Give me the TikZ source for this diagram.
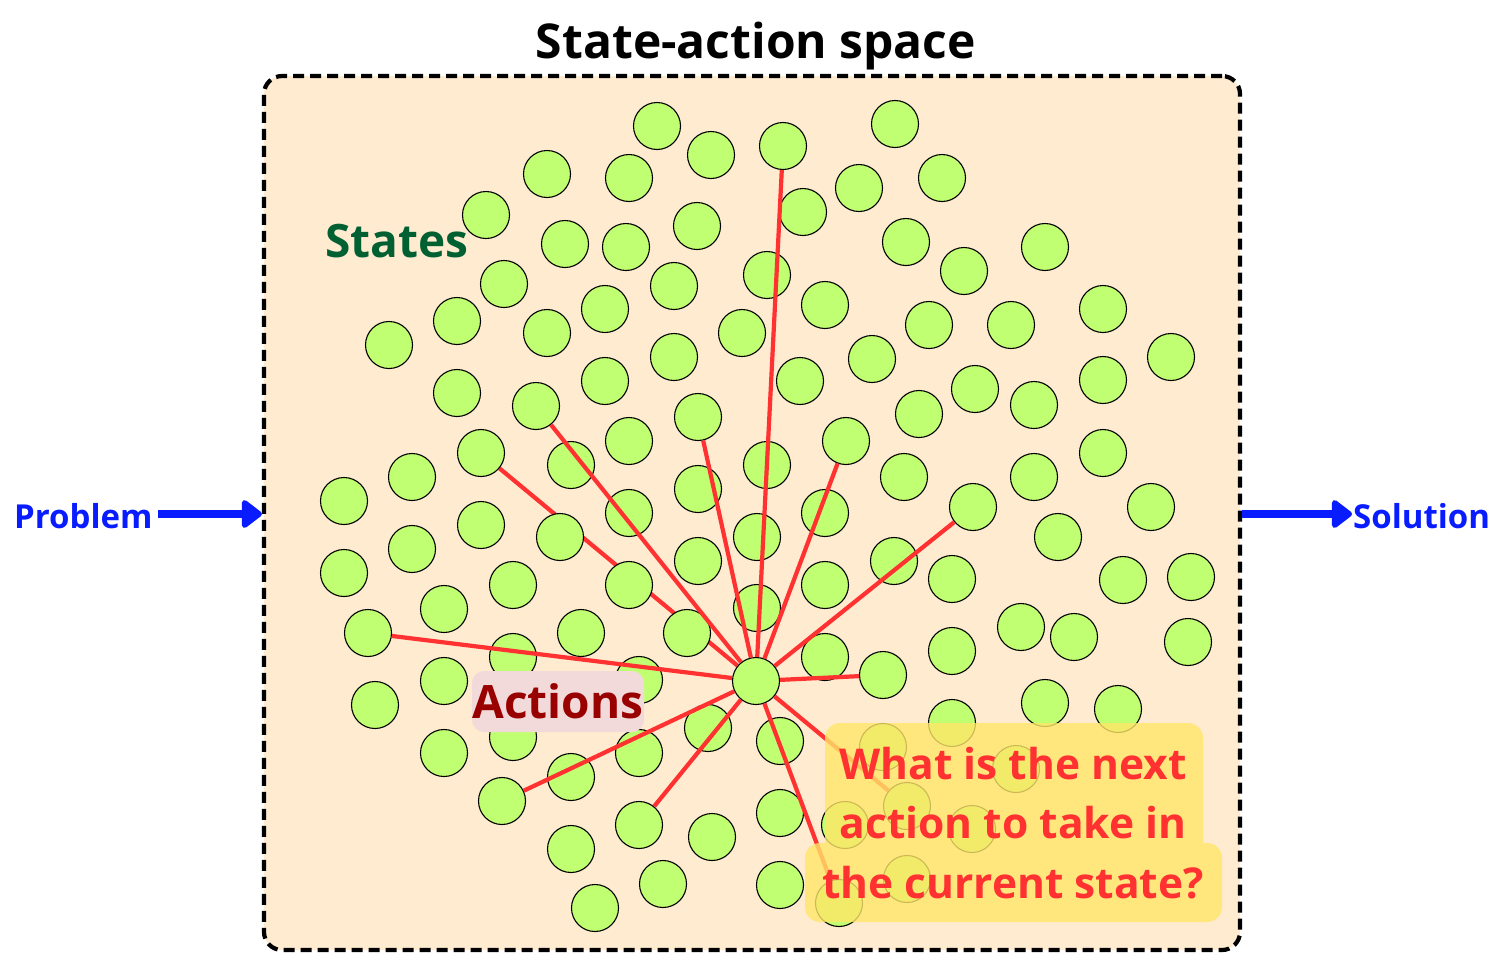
\documentclass[tikz,border=0pt]{standalone}
\usepackage{fontspec}
\setmainfont{Open Sans}
\usetikzlibrary{arrows.meta}
\definecolor{peach}{RGB}{255,235,208}
\definecolor{lgreen}{RGB}{193,255,114}
\definecolor{rline}{RGB}{255,49,49}
\definecolor{pblue}{RGB}{8,28,255}
\definecolor{dgreen}{RGB}{0,96,50}
\definecolor{dred}{RGB}{153,0,0}
\definecolor{pinkbox}{RGB}{242,218,218}
\definecolor{ybox}{RGB}{255,230,105}
\pgfdeclarelayer{bg}
\pgfdeclarelayer{under}
\pgfsetlayers{bg,under,main}
\tikzset{
  st/.style={circle, draw=black, line width=1.1pt, fill=lgreen, minimum size=47pt, inner sep=0pt},
  act/.style={draw=rline, line width=4.2pt},
  flow/.style={draw=pblue, line width=7.5pt, -{Triangle[round, length=22pt, width=32pt]}},
  lbl/.style={inner sep=0pt, font=\bfseries},
}
\begin{document}
\begin{tikzpicture}[x=1pt,y=-1pt]
\useasboundingbox (0,0) rectangle (1503,956);
\begin{pgfonlayer}{bg}
\fill[white] (0,0) rectangle (1503,956);
\node[draw=black, fill=peach, line width=4.2pt, dash pattern=on 11pt off 6pt, rounded corners=18pt,
      minimum width=976pt, minimum height=874pt, inner sep=0pt] (space) at (752,513) {};
\end{pgfonlayer}
\foreach \x/\y [count=\i] in {
 657/126, 711/155, 547/174, 629/178, 486/215, 565/244, 626/247, 697/226, 504/284, 674/286,
 457/321, 547/333, 605/309, 742/333, 389/345, 674/357, 605/381, 767/275, 783/146, 895/124,
 942/178, 859/188, 803/212, 906/242, 964/271, 1045/247, 825/305, 929/325, 1011/325, 1103/309,
 872/359, 800/381, 1103/380, 1171/357, 975/389, 457/393, 536/406, 481/453, 571/465, 629/441,
 698/417, 344/501, 412/477, 481/525, 560/537, 629/513, 698/489, 767/465, 757/537, 344/573,
 412/549, 513/585, 444/609, 629/585, 698/561, 757/608, 368/633, 581/633, 687/633, 919/414,
 1034/405, 846/441, 904/477, 1034/477, 1103/453, 973/507, 825/513, 1058/537, 1151/507, 894/561,
 952/579, 825/585, 1123/580, 1191/577, 1021/627, 1074/637, 1188/642, 513/657, 444/681, 639/680,
 756/681, 375/705, 513/737, 444/753, 639/753, 708/728, 571/777, 502/801, 639/825, 712/837,
 571/849, 663/884, 595/908, 780/741, 780/813, 780/885, 825/657, 883/675, 952/651, 952/723,
 1045/703, 1118/709, 883/747, 1016/769, 907/806, 845/825, 972/829, 907/879, 839/903}
 \node[st] (s\i) at (\x,\y) {};
\begin{pgfonlayer}{under}
\draw[act] (s81) -- (s38);
\end{pgfonlayer}
\foreach \t in {19,37,41,57,62,66,98,88,89,105,109}
  \draw[act] (s81) -- (s\t);
% labels
\node[lbl, anchor=base west, text=dgreen, font=\bfseries\fontsize{46}{50}\selectfont] (states) at (325,257) {States};
\node[fill=pinkbox, rounded corners=12pt, minimum width=172pt, minimum height=61pt, inner sep=0pt,
      text=dred, font=\bfseries\fontsize{46}{50}\selectfont] (actions) at (558,701.5) {Actions};
% question box
\fill[ybox, opacity=0.8, rounded corners=15pt] (825,723) rectangle (1203,865) (805,843) rectangle (1222,922);
\begin{scope}[every node/.style={lbl, anchor=base, text=rline, font=\bfseries\fontsize{42.5}{50}\selectfont}]
\node (q1) at (1013,779) {What is the next};
\node (q2) at (1013,838) {action to take in};
\node (q3) at (1013,898) {the current state?};
\end{scope}
% title and flow
\node[lbl, anchor=base, font=\bfseries\fontsize{48}{52}\selectfont] (title) at (756,58) {State-action space};
\node[lbl, anchor=base west, text=pblue, font=\bfseries\fontsize{33}{40}\selectfont] (prob) at (14,528) {Problem};
\node[lbl, anchor=base west, text=pblue, font=\bfseries\fontsize{33}{40}\selectfont] (sol) at (1353,528) {Solution};
\coordinate (pa) at (158,514);
\coordinate (sb) at (1352,514);
\draw[flow] (pa) -- (space.west |- pa);
\draw[flow] (space.east |- sb) -- (sb);
\end{tikzpicture}
\end{document}
